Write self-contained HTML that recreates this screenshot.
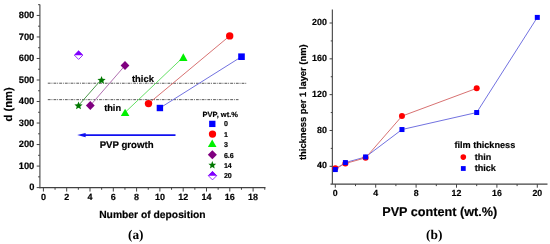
<!DOCTYPE html>
<html><head><meta charset="utf-8"><style>
html,body{margin:0;padding:0;background:#fff;width:550px;height:244px;overflow:hidden}
svg{display:block;filter:blur(0.3px)}
text{text-rendering:geometricPrecision;stroke:#000;stroke-width:0.18px;paint-order:stroke}
</style></head><body>
<svg width="550" height="244" viewBox="0 0 550 244">
<rect width="550" height="244" fill="#fff"/>
<line x1="39.9" y1="4.5" x2="39.9" y2="188.15" stroke="#424242" stroke-width="1.1"/>
<line x1="39.4" y1="187.65" x2="265.5" y2="187.65" stroke="#424242" stroke-width="1.1"/>
<line x1="36.699999999999996" y1="187.60" x2="39.9" y2="187.60" stroke="#424242" stroke-width="1"/>
<text x="34.3" y="190.20" text-anchor="end" font-size="9.3" font-family="Liberation Sans, Arial, sans-serif" font-weight="bold">0</text>
<line x1="38.1" y1="176.84" x2="39.9" y2="176.84" stroke="#424242" stroke-width="1"/>
<line x1="36.699999999999996" y1="166.08" x2="39.9" y2="166.08" stroke="#424242" stroke-width="1"/>
<text x="34.3" y="168.68" text-anchor="end" font-size="9.3" font-family="Liberation Sans, Arial, sans-serif" font-weight="bold">100</text>
<line x1="38.1" y1="155.32" x2="39.9" y2="155.32" stroke="#424242" stroke-width="1"/>
<line x1="36.699999999999996" y1="144.56" x2="39.9" y2="144.56" stroke="#424242" stroke-width="1"/>
<text x="34.3" y="147.16" text-anchor="end" font-size="9.3" font-family="Liberation Sans, Arial, sans-serif" font-weight="bold">200</text>
<line x1="38.1" y1="133.80" x2="39.9" y2="133.80" stroke="#424242" stroke-width="1"/>
<line x1="36.699999999999996" y1="123.04" x2="39.9" y2="123.04" stroke="#424242" stroke-width="1"/>
<text x="34.3" y="125.64" text-anchor="end" font-size="9.3" font-family="Liberation Sans, Arial, sans-serif" font-weight="bold">300</text>
<line x1="38.1" y1="112.28" x2="39.9" y2="112.28" stroke="#424242" stroke-width="1"/>
<line x1="36.699999999999996" y1="101.52" x2="39.9" y2="101.52" stroke="#424242" stroke-width="1"/>
<text x="34.3" y="104.12" text-anchor="end" font-size="9.3" font-family="Liberation Sans, Arial, sans-serif" font-weight="bold">400</text>
<line x1="38.1" y1="90.76" x2="39.9" y2="90.76" stroke="#424242" stroke-width="1"/>
<line x1="36.699999999999996" y1="80.00" x2="39.9" y2="80.00" stroke="#424242" stroke-width="1"/>
<text x="34.3" y="82.60" text-anchor="end" font-size="9.3" font-family="Liberation Sans, Arial, sans-serif" font-weight="bold">500</text>
<line x1="38.1" y1="69.24" x2="39.9" y2="69.24" stroke="#424242" stroke-width="1"/>
<line x1="36.699999999999996" y1="58.48" x2="39.9" y2="58.48" stroke="#424242" stroke-width="1"/>
<text x="34.3" y="61.08" text-anchor="end" font-size="9.3" font-family="Liberation Sans, Arial, sans-serif" font-weight="bold">600</text>
<line x1="38.1" y1="47.72" x2="39.9" y2="47.72" stroke="#424242" stroke-width="1"/>
<line x1="36.699999999999996" y1="36.96" x2="39.9" y2="36.96" stroke="#424242" stroke-width="1"/>
<text x="34.3" y="39.56" text-anchor="end" font-size="9.3" font-family="Liberation Sans, Arial, sans-serif" font-weight="bold">700</text>
<line x1="38.1" y1="26.20" x2="39.9" y2="26.20" stroke="#424242" stroke-width="1"/>
<line x1="36.699999999999996" y1="15.44" x2="39.9" y2="15.44" stroke="#424242" stroke-width="1"/>
<text x="34.3" y="18.04" text-anchor="end" font-size="9.3" font-family="Liberation Sans, Arial, sans-serif" font-weight="bold">800</text>
<line x1="38.1" y1="4.68" x2="39.9" y2="4.68" stroke="#424242" stroke-width="1"/>
<line x1="43.40" y1="187.65" x2="43.40" y2="191.55" stroke="#424242" stroke-width="1"/>
<text x="43.40" y="200.2" text-anchor="middle" font-size="9" font-family="Liberation Sans, Arial, sans-serif" font-weight="bold">0</text>
<line x1="55.05" y1="187.65" x2="55.05" y2="189.75" stroke="#424242" stroke-width="1"/>
<line x1="66.70" y1="187.65" x2="66.70" y2="191.55" stroke="#424242" stroke-width="1"/>
<text x="66.70" y="200.2" text-anchor="middle" font-size="9" font-family="Liberation Sans, Arial, sans-serif" font-weight="bold">2</text>
<line x1="78.35" y1="187.65" x2="78.35" y2="189.75" stroke="#424242" stroke-width="1"/>
<line x1="90.00" y1="187.65" x2="90.00" y2="191.55" stroke="#424242" stroke-width="1"/>
<text x="90.00" y="200.2" text-anchor="middle" font-size="9" font-family="Liberation Sans, Arial, sans-serif" font-weight="bold">4</text>
<line x1="101.65" y1="187.65" x2="101.65" y2="189.75" stroke="#424242" stroke-width="1"/>
<line x1="113.30" y1="187.65" x2="113.30" y2="191.55" stroke="#424242" stroke-width="1"/>
<text x="113.30" y="200.2" text-anchor="middle" font-size="9" font-family="Liberation Sans, Arial, sans-serif" font-weight="bold">6</text>
<line x1="124.95" y1="187.65" x2="124.95" y2="189.75" stroke="#424242" stroke-width="1"/>
<line x1="136.60" y1="187.65" x2="136.60" y2="191.55" stroke="#424242" stroke-width="1"/>
<text x="136.60" y="200.2" text-anchor="middle" font-size="9" font-family="Liberation Sans, Arial, sans-serif" font-weight="bold">8</text>
<line x1="148.25" y1="187.65" x2="148.25" y2="189.75" stroke="#424242" stroke-width="1"/>
<line x1="159.90" y1="187.65" x2="159.90" y2="191.55" stroke="#424242" stroke-width="1"/>
<text x="159.90" y="200.2" text-anchor="middle" font-size="9" font-family="Liberation Sans, Arial, sans-serif" font-weight="bold">10</text>
<line x1="171.55" y1="187.65" x2="171.55" y2="189.75" stroke="#424242" stroke-width="1"/>
<line x1="183.20" y1="187.65" x2="183.20" y2="191.55" stroke="#424242" stroke-width="1"/>
<text x="183.20" y="200.2" text-anchor="middle" font-size="9" font-family="Liberation Sans, Arial, sans-serif" font-weight="bold">12</text>
<line x1="194.85" y1="187.65" x2="194.85" y2="189.75" stroke="#424242" stroke-width="1"/>
<line x1="206.50" y1="187.65" x2="206.50" y2="191.55" stroke="#424242" stroke-width="1"/>
<text x="206.50" y="200.2" text-anchor="middle" font-size="9" font-family="Liberation Sans, Arial, sans-serif" font-weight="bold">14</text>
<line x1="218.15" y1="187.65" x2="218.15" y2="189.75" stroke="#424242" stroke-width="1"/>
<line x1="229.80" y1="187.65" x2="229.80" y2="191.55" stroke="#424242" stroke-width="1"/>
<text x="229.80" y="200.2" text-anchor="middle" font-size="9" font-family="Liberation Sans, Arial, sans-serif" font-weight="bold">16</text>
<line x1="241.45" y1="187.65" x2="241.45" y2="189.75" stroke="#424242" stroke-width="1"/>
<line x1="253.10" y1="187.65" x2="253.10" y2="191.55" stroke="#424242" stroke-width="1"/>
<text x="253.10" y="200.2" text-anchor="middle" font-size="9" font-family="Liberation Sans, Arial, sans-serif" font-weight="bold">18</text>
<line x1="264.75" y1="187.65" x2="264.75" y2="189.75" stroke="#424242" stroke-width="1"/>
<text transform="translate(11.9,104.3) rotate(-90)" text-anchor="middle" font-size="11.2" font-family="Liberation Sans, Arial, sans-serif" font-weight="bold">d (nm)</text>
<text x="152.4" y="218.1" text-anchor="middle" font-size="10.3" font-family="Liberation Sans, Arial, sans-serif" font-weight="bold">Number of deposition</text>
<text x="135.8" y="239.0" text-anchor="middle" font-size="13.3" font-family="Liberation Serif, Times New Roman, serif" font-weight="bold" style="stroke:none">(a)</text>
<line x1="47.8" y1="83.2" x2="246.5" y2="83.3" stroke="#444" stroke-width="0.9" stroke-dasharray="2.8,0.9,0.9,1.1"/>
<line x1="47.8" y1="99.65" x2="238.5" y2="99.65" stroke="#444" stroke-width="0.9" stroke-dasharray="2.8,0.9,0.9,1.1"/>
<text x="132" y="81.5" font-size="9.4" font-family="Liberation Sans, Arial, sans-serif" font-weight="bold">thick</text>
<text x="104.2" y="111.3" font-size="9.2" font-family="Liberation Sans, Arial, sans-serif" font-weight="bold">thin</text>
<line x1="159.9" y1="108.0" x2="241.5" y2="56.7" stroke="#7272e0" stroke-width="1"/>
<line x1="148.5" y1="103.6" x2="229.7" y2="35.9" stroke="#d87272" stroke-width="1"/>
<line x1="125.1" y1="112.4" x2="183.3" y2="57.1" stroke="#66e066" stroke-width="1"/>
<line x1="90.3" y1="105.5" x2="125.0" y2="65.5" stroke="#b070b0" stroke-width="1"/>
<line x1="78.5" y1="105.5" x2="101.4" y2="79.5" stroke="#4c9a4c" stroke-width="1"/>
<rect x="156.70" y="104.80" width="6.4" height="6.4" fill="#0000ff"/>
<rect x="238.20" y="53.40" width="6.6" height="6.6" fill="#0000ff"/>
<circle cx="148.50" cy="103.60" r="3.7" fill="#ff0000"/>
<circle cx="229.70" cy="35.90" r="3.7" fill="#ff0000"/>
<polygon points="125.10,108.70 129.40,116.10 120.80,116.10" fill="#00f000"/>
<polygon points="183.30,53.20 187.50,61.00 179.10,61.00" fill="#00f000"/>
<polygon points="90.30,101.10 94.70,105.50 90.30,109.90 85.90,105.50" fill="#800080"/>
<polygon points="125.00,61.10 129.40,65.50 125.00,69.90 120.60,65.50" fill="#800080"/>
<polygon points="78.50,101.50 79.61,104.27 82.59,104.47 80.30,106.38 81.03,109.28 78.50,107.69 75.97,109.28 76.70,106.38 74.41,104.47 77.39,104.27" fill="#007800"/>
<polygon points="101.55,76.05 102.66,78.82 105.64,79.02 103.35,80.93 104.08,83.83 101.55,82.24 99.02,83.83 99.75,80.93 97.46,79.02 100.44,78.82" fill="#007800"/>
<polygon points="78.60,51.00 82.80,55.20 78.60,59.40 74.40,55.20" fill="#fff" stroke="#8000ff" stroke-width="0.8"/><polygon points="78.60,50.60 83.20,55.20 83.05,55.35 74.15,55.35 74.00,55.20" fill="#8000ff"/>
<line x1="84" y1="135.1" x2="175.5" y2="135.1" stroke="#1010f0" stroke-width="1.7"/>
<polygon points="77.2,135.1 85.6,132.9 85.6,137.3" fill="#1010f0"/>
<text x="99.7" y="147.6" font-size="9.65" font-family="Liberation Sans, Arial, sans-serif" font-weight="bold">PVP growth</text>
<text x="202.6" y="116.8" font-size="7.5" font-family="Liberation Sans, Arial, sans-serif" font-weight="bold">PVP, wt.%</text>
<rect x="209.15" y="120.75" width="6.3" height="6.3" fill="#0000ff"/>
<circle cx="212.50" cy="134.10" r="3.65" fill="#ff0000"/>
<polygon points="212.20,139.40 216.50,147.00 207.90,147.00" fill="#00f000"/>
<polygon points="212.35,150.15 216.90,154.70 212.35,159.25 207.80,154.70" fill="#800080"/>
<polygon points="212.30,161.00 213.36,163.64 216.20,163.83 214.02,165.66 214.71,168.42 212.30,166.90 209.89,168.42 210.58,165.66 208.40,163.83 211.24,163.64" fill="#007800"/>
<polygon points="212.50,171.50 216.70,175.70 212.50,179.90 208.30,175.70" fill="#fff" stroke="#8000ff" stroke-width="0.8"/><polygon points="212.50,171.10 217.10,175.70 216.95,175.85 208.05,175.85 207.90,175.70" fill="#8000ff"/>
<text x="223.9" y="126.4" font-size="7.1" font-family="Liberation Sans, Arial, sans-serif" font-weight="bold">0</text>
<text x="223.9" y="137.0" font-size="7.1" font-family="Liberation Sans, Arial, sans-serif" font-weight="bold">1</text>
<text x="223.9" y="147.4" font-size="7.1" font-family="Liberation Sans, Arial, sans-serif" font-weight="bold">3</text>
<text x="223.9" y="158.0" font-size="7.1" font-family="Liberation Sans, Arial, sans-serif" font-weight="bold">6.6</text>
<text x="223.9" y="167.7" font-size="7.1" font-family="Liberation Sans, Arial, sans-serif" font-weight="bold">14</text>
<text x="223.9" y="177.6" font-size="7.1" font-family="Liberation Sans, Arial, sans-serif" font-weight="bold">20</text>
<line x1="332.35" y1="9.5" x2="332.35" y2="184.1" stroke="#424242" stroke-width="1.1"/>
<line x1="330.5" y1="184.1" x2="547.5" y2="184.1" stroke="#424242" stroke-width="1.1"/>
<line x1="329.55" y1="166.30" x2="332.35" y2="166.30" stroke="#424242" stroke-width="1"/>
<text x="326.9" y="168.40" text-anchor="end" font-size="8.9" font-family="Liberation Sans, Arial, sans-serif" font-weight="bold">40</text>
<line x1="330.75" y1="148.39" x2="332.35" y2="148.39" stroke="#424242" stroke-width="1"/>
<line x1="329.55" y1="130.48" x2="332.35" y2="130.48" stroke="#424242" stroke-width="1"/>
<text x="326.9" y="132.58" text-anchor="end" font-size="8.9" font-family="Liberation Sans, Arial, sans-serif" font-weight="bold">80</text>
<line x1="330.75" y1="112.56" x2="332.35" y2="112.56" stroke="#424242" stroke-width="1"/>
<line x1="329.55" y1="94.65" x2="332.35" y2="94.65" stroke="#424242" stroke-width="1"/>
<text x="326.9" y="96.75" text-anchor="end" font-size="8.9" font-family="Liberation Sans, Arial, sans-serif" font-weight="bold">120</text>
<line x1="330.75" y1="76.74" x2="332.35" y2="76.74" stroke="#424242" stroke-width="1"/>
<line x1="329.55" y1="58.83" x2="332.35" y2="58.83" stroke="#424242" stroke-width="1"/>
<text x="326.9" y="60.93" text-anchor="end" font-size="8.9" font-family="Liberation Sans, Arial, sans-serif" font-weight="bold">160</text>
<line x1="330.75" y1="40.92" x2="332.35" y2="40.92" stroke="#424242" stroke-width="1"/>
<line x1="329.55" y1="23.00" x2="332.35" y2="23.00" stroke="#424242" stroke-width="1"/>
<text x="326.9" y="25.10" text-anchor="end" font-size="8.9" font-family="Liberation Sans, Arial, sans-serif" font-weight="bold">200</text>
<line x1="335.30" y1="184.1" x2="335.30" y2="187.7" stroke="#424242" stroke-width="1"/>
<text x="335.30" y="195.9" text-anchor="middle" font-size="8.8" font-family="Liberation Sans, Arial, sans-serif" font-weight="bold">0</text>
<line x1="355.50" y1="184.1" x2="355.50" y2="186.1" stroke="#424242" stroke-width="1"/>
<line x1="375.70" y1="184.1" x2="375.70" y2="187.7" stroke="#424242" stroke-width="1"/>
<text x="375.70" y="195.9" text-anchor="middle" font-size="8.8" font-family="Liberation Sans, Arial, sans-serif" font-weight="bold">4</text>
<line x1="395.90" y1="184.1" x2="395.90" y2="186.1" stroke="#424242" stroke-width="1"/>
<line x1="416.10" y1="184.1" x2="416.10" y2="187.7" stroke="#424242" stroke-width="1"/>
<text x="416.10" y="195.9" text-anchor="middle" font-size="8.8" font-family="Liberation Sans, Arial, sans-serif" font-weight="bold">8</text>
<line x1="436.30" y1="184.1" x2="436.30" y2="186.1" stroke="#424242" stroke-width="1"/>
<line x1="456.50" y1="184.1" x2="456.50" y2="187.7" stroke="#424242" stroke-width="1"/>
<text x="456.50" y="195.9" text-anchor="middle" font-size="8.8" font-family="Liberation Sans, Arial, sans-serif" font-weight="bold">12</text>
<line x1="476.70" y1="184.1" x2="476.70" y2="186.1" stroke="#424242" stroke-width="1"/>
<line x1="496.90" y1="184.1" x2="496.90" y2="187.7" stroke="#424242" stroke-width="1"/>
<text x="496.90" y="195.9" text-anchor="middle" font-size="8.8" font-family="Liberation Sans, Arial, sans-serif" font-weight="bold">16</text>
<line x1="517.10" y1="184.1" x2="517.10" y2="186.1" stroke="#424242" stroke-width="1"/>
<line x1="537.30" y1="184.1" x2="537.30" y2="187.7" stroke="#424242" stroke-width="1"/>
<text x="537.30" y="195.9" text-anchor="middle" font-size="8.8" font-family="Liberation Sans, Arial, sans-serif" font-weight="bold">20</text>
<text transform="translate(305.8,102.2) rotate(-90)" text-anchor="middle" font-size="9.4" font-family="Liberation Sans, Arial, sans-serif" font-weight="bold">thickness per 1 layer (nm)</text>
<text x="439.7" y="215.9" text-anchor="middle" font-size="12.65" font-family="Liberation Sans, Arial, sans-serif" font-weight="bold">PVP content (wt.%)</text>
<text x="434.2" y="239.0" text-anchor="middle" font-size="13.4" font-family="Liberation Serif, Times New Roman, serif" font-weight="bold" style="stroke:none">(b)</text>
<polyline points="335.30,169.57 345.40,162.59 365.60,156.94 401.96,129.54 476.70,112.52 537.30,17.41" fill="none" stroke="#7272e0" stroke-width="1"/>
<polyline points="335.30,168.32 345.40,163.48 365.60,157.84 401.96,116.10 476.70,88.34" fill="none" stroke="#d87272" stroke-width="1"/>
<circle cx="335.30" cy="168.32" r="3.0" fill="#ff0000"/>
<circle cx="345.40" cy="163.48" r="3.0" fill="#ff0000"/>
<circle cx="365.60" cy="157.84" r="3.0" fill="#ff0000"/>
<circle cx="401.96" cy="116.10" r="3.0" fill="#ff0000"/>
<circle cx="476.70" cy="88.34" r="3.0" fill="#ff0000"/>
<rect x="332.80" y="167.07" width="5.0" height="5.0" fill="#0000ff"/>
<rect x="342.90" y="160.09" width="5.0" height="5.0" fill="#0000ff"/>
<rect x="363.10" y="154.44" width="5.0" height="5.0" fill="#0000ff"/>
<rect x="399.46" y="127.04" width="5.0" height="5.0" fill="#0000ff"/>
<rect x="474.20" y="110.02" width="5.0" height="5.0" fill="#0000ff"/>
<rect x="534.80" y="14.91" width="5.0" height="5.0" fill="#0000ff"/>
<text x="454.4" y="147.9" font-size="9.15" font-family="Liberation Sans, Arial, sans-serif" font-weight="bold">film thickness</text>
<circle cx="463.30" cy="157.10" r="2.8" fill="#ff0000"/>
<rect x="460.90" y="166.10" width="4.8" height="4.8" fill="#0000ff"/>
<text x="474.7" y="159.9" font-size="9.0" font-family="Liberation Sans, Arial, sans-serif" font-weight="bold">thin</text>
<text x="474.7" y="170.9" font-size="9.1" font-family="Liberation Sans, Arial, sans-serif" font-weight="bold">thick</text>
</svg>
</body></html>
